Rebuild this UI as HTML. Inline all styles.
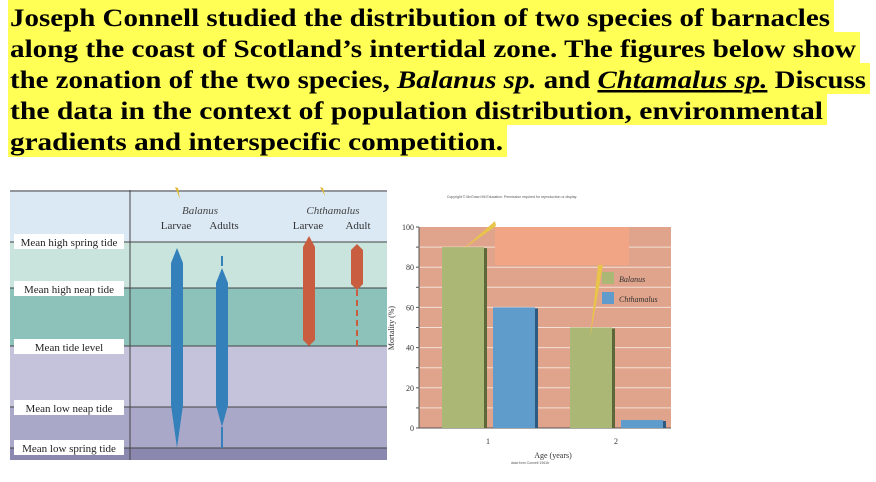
<!DOCTYPE html>
<html><head><meta charset="utf-8"><style>
body{margin:0;background:#fff;width:876px;height:482px;overflow:hidden;position:relative;font-family:"Liberation Serif",serif}
svg{position:absolute;left:0;top:0}
</style></head><body>
<svg width="876" height="482">
<g font-family="Liberation Serif, serif" font-weight="bold" font-size="25">
 <rect x="8" y="0" width="826" height="32" fill="#ffff55"/>
 <rect x="8" y="32" width="852" height="31" fill="#ffff55"/>
 <rect x="8" y="63" width="862" height="31" fill="#ffff55"/>
 <rect x="8" y="94" width="819" height="31" fill="#ffff55"/>
 <rect x="8" y="125" width="499" height="32" fill="#ffff55"/>
 <text x="10" y="26" textLength="820" lengthAdjust="spacingAndGlyphs">Joseph Connell studied the distribution of two species of barnacles</text>
 <text x="10" y="57" textLength="846" lengthAdjust="spacingAndGlyphs">along the coast of Scotland’s intertidal zone.  The figures below show</text>
 <text x="10" y="88" textLength="856" lengthAdjust="spacingAndGlyphs">the zonation of the two species, <tspan font-style="italic">Balanus sp.</tspan> and <tspan font-style="italic" text-decoration="underline">Chtamalus sp.</tspan> Discuss</text>
 <text x="10" y="119" textLength="813" lengthAdjust="spacingAndGlyphs">the data in the context of population distribution, environmental</text>
 <text x="10" y="150" textLength="493" lengthAdjust="spacingAndGlyphs">gradients and interspecific competition.</text>
</g>

<g>
 <rect x="10" y="190" width="377" height="52" fill="#dbe9f5"/>
 <rect x="10" y="242" width="377" height="46" fill="#c9e3dd"/>
 <rect x="10" y="288" width="377" height="58" fill="#8cc2ba"/>
 <rect x="10" y="346" width="377" height="61" fill="#c5c3dc"/>
 <rect x="10" y="407" width="377" height="41" fill="#a9a8c8"/>
 <rect x="10" y="448" width="377" height="12" fill="#8b88b0"/>
 <g stroke="#444" stroke-width="1">
  <line x1="10" y1="191" x2="387" y2="191"/>
  <line x1="10" y1="242" x2="387" y2="242"/>
  <line x1="10" y1="288" x2="387" y2="288"/>
  <line x1="10" y1="346" x2="387" y2="346"/>
  <line x1="10" y1="407" x2="387" y2="407"/>
  <line x1="10" y1="448" x2="387" y2="448"/>
  <line x1="130" y1="190" x2="130" y2="460"/>
 </g>
 <g font-size="11" fill="#222" text-anchor="middle">
  <rect x="14" y="234" width="110" height="15" fill="#fff"/><text x="69" y="246">Mean high spring tide</text>
  <rect x="14" y="281" width="110" height="15" fill="#fff"/><text x="69" y="293">Mean high neap tide</text>
  <rect x="14" y="339" width="110" height="15" fill="#fff"/><text x="69" y="351">Mean tide level</text>
  <rect x="14" y="400" width="110" height="15" fill="#fff"/><text x="69" y="412">Mean low neap tide</text>
  <rect x="14" y="440" width="110" height="15" fill="#fff"/><text x="69" y="452">Mean low spring tide</text>
  <text x="200" y="214" font-style="italic" fill="#444">Balanus</text>
  <text x="176" y="229" fill="#333">Larvae</text><text x="224" y="229" fill="#333">Adults</text>
  <text x="333" y="214" font-style="italic" fill="#444">Chthamalus</text>
  <text x="308" y="229" fill="#333">Larvae</text><text x="358" y="229" fill="#333">Adult</text>
 </g>
 <path d="M177,248 L183,263 L183,405 L177,448 L171,405 L171,263 Z" fill="#3380bb"/>
 <path d="M222,268 L228,283 L228,405 L222,427 L216,405 L216,283 Z" fill="#3380bb"/>
 <line x1="222" y1="256" x2="222" y2="266" stroke="#3380bb" stroke-width="2"/>
 <line x1="222" y1="427" x2="222" y2="448" stroke="#3380bb" stroke-width="2"/>
 <path d="M309,236 L315,247 L315,340 L309,346 L303,340 L303,247 Z" fill="#c85d40"/>
 <path d="M357,244 L363,250 L363,284 L357,290 L351,284 L351,250 Z" fill="#c85d40"/>
 <line x1="357" y1="290" x2="357" y2="346" stroke="#c85d40" stroke-width="2" stroke-dasharray="6,4"/>
 <path d="M175,187 L180,199 L178,188 Z" fill="#e2b830"/>
 <path d="M320,187 L325,196 L323,188 Z" fill="#e2b830"/>
</g>

<g id="chart"></g>
</svg>
<script>
const categories=["1","2"];
const balanus=[90,50];
const chthamalus=[60,4];
const yTicks=[0,20,40,60,80,100];
const NS="http://www.w3.org/2000/svg";
const g=document.getElementById('chart');
const X0=419,X1=671,Y0=428,Y1=227;
const y=v=>Y0-(v/100)*(Y0-Y1);
const groupX=i=>442+i*128;
function mk(tag,a,parent){const e=document.createElementNS(NS,tag);for(const k in a)e.setAttribute(k,a[k]);(parent||g).appendChild(e);return e;}
mk('text',{x:512,y:198,'font-size':'3.5','text-anchor':'middle','font-family':'Liberation Sans, sans-serif',fill:'#555'}).textContent='Copyright © McGraw-Hill Education. Permission required for reproduction or display.';
const bg=mk('rect',{x:X0,y:Y1,width:X1-X0,height:Y0-Y1,fill:'#e0a48c'});


for(let v=10;v<100;v+=10){mk('line',{x1:X0,x2:X1,y1:y(v),y2:y(v),stroke:'#f4e0d6','stroke-width':1});}
mk('line',{x1:X0,x2:X0,y1:Y1,y2:Y0,stroke:'#555'});
mk('line',{x1:X0,x2:X1,y1:Y0,y2:Y0,stroke:'#555'});
for(let v=0;v<=100;v+=10){mk('line',{x1:X0-3,x2:X0,y1:y(v),y2:y(v),stroke:'#555'});}
yTicks.forEach(v=>{const t=mk('text',{x:X0-5,y:y(v)+3,'font-size':'8','text-anchor':'end',fill:'#333','font-family':'Liberation Serif, serif'});t.textContent=v;

});
function bar(x,v,fill,side,name){
 const b=mk('rect',{x:x,y:y(v),width:42,height:Y0-y(v),fill:fill});
 
 
 mk('rect',{x:x+42,y:y(v)+1,width:3,height:Y0-y(v)-1,fill:side});
}
categories.forEach((c,i)=>{
 const gx=groupX(i);
 bar(gx,balanus[i],'#abb774','#5d6838','bar-balanus-'+c);
 bar(gx+51,chthamalus[i],'#5f9ccb','#2c5a80','bar-chthamalus-'+c);
 const t=mk('text',{x:gx+46,y:444,'font-size':'8','text-anchor':'middle',fill:'#333','font-family':'Liberation Serif, serif'});t.textContent=c;
 
 
});
mk('rect',{x:495,y:200,width:134,height:27,fill:'#fff'});
mk('rect',{x:495,y:227,width:134,height:38,fill:'#f1a585'});
mk('path',{d:'M495,221 L462,250 L496,226 Z',fill:'#e8c44a'});
mk('path',{d:'M598,265 L590,338 L603,265 Z',fill:'#e8c44a'});
const l1=mk('rect',{x:602,y:272,width:12,height:12,fill:'#abb774'});


const l2=mk('rect',{x:602,y:292,width:12,height:12,fill:'#5f9ccb'});


mk('text',{x:619,y:282,'font-size':'8','font-style':'italic',fill:'#333','font-family':'Liberation Serif, serif'}).textContent='Balanus';
mk('text',{x:619,y:302,'font-size':'8','font-style':'italic',fill:'#333','font-family':'Liberation Serif, serif'}).textContent='Chthamalus';
const xt=mk('text',{x:553,y:458,'font-size':'8','text-anchor':'middle',fill:'#333','font-family':'Liberation Serif, serif'});xt.textContent='Age (years)';


mk('text',{x:530,y:464,'font-size':'3.5','text-anchor':'middle',fill:'#555','font-family':'Liberation Sans, sans-serif'}).textContent='data from Connell 1961b';
const yt=mk('text',{x:0,y:0,'font-size':'8','text-anchor':'middle',fill:'#333','font-family':'Liberation Serif, serif',transform:'translate(394,328) rotate(-90)'});yt.textContent='Mortality (%)';


</script>
</body></html>
